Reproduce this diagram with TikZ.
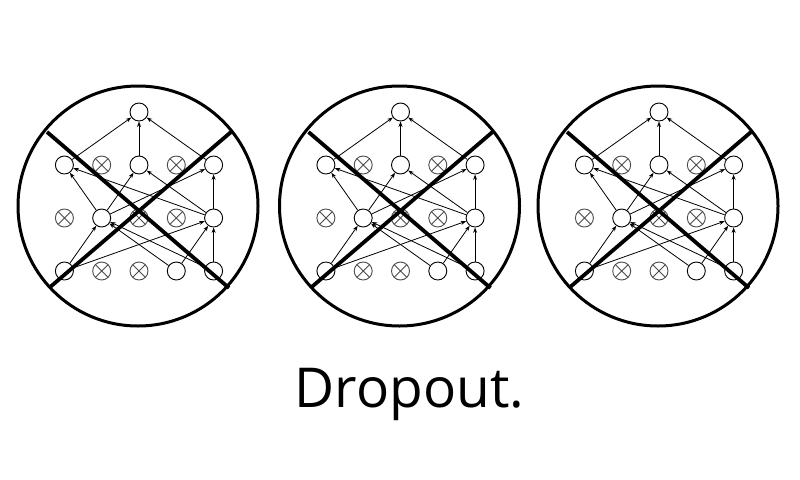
\documentclass[tikz,border=0pt]{standalone}
\usepackage{fontspec}
\setmainfont{Open Sans}
\usetikzlibrary{arrows.meta}

\tikzset{
    unit/.style={circle,draw,line width=0.9pt,minimum size=18pt,inner sep=0pt,fill=white},
    dropped/.style={unit,draw=black!70,path picture={
        \draw[black!70,line width=0.9pt] (path picture bounding box.north west) -- (path picture bounding box.south east)
            (path picture bounding box.north east) -- (path picture bounding box.south west);}},
    link/.style={line width=0.8pt,-{Stealth[length=5.5pt,width=4pt]}},
    ring/.style={line width=3pt},
    strike/.style={line width=3.8pt}
}

\begin{document}
\begin{tikzpicture}[x=1pt,y=-1pt]
    \useasboundingbox (0,0) rectangle (800,479);

    \foreach \p/\cx in {1/138,2/399.5,3/658} {
        % thinned network
        \foreach \r/\c/\kind in {1/2/unit,
                2/0/unit,2/1/dropped,2/2/unit,2/3/dropped,2/4/unit,
                3/0/dropped,3/1/unit,3/2/dropped,3/3/dropped,3/4/unit,
                4/0/unit,4/1/dropped,4/2/dropped,4/3/unit,4/4/unit}
            \node[\kind] (u\p-\r-\c) at ({\cx+1+37.3*(\c-2)},{112+53*(\r-1)}) {};

        % Connections
        \foreach \s/\t in {2-0/1-2,2-2/1-2,2-4/1-2,
                3-1/2-0,3-1/2-2,3-1/2-4,3-4/2-0,3-4/2-2,3-4/2-4,
                4-0/3-1,4-0/3-4,4-3/3-1,4-3/3-4,4-4/3-1,4-4/3-4}
            \draw[link] (u\p-\s) -- (u\p-\t);

        % Crossed out
        \draw[ring] (\cx,206) circle[radius=120];
        \draw[strike] (\cx-91,132) -- (\cx+91,288);
        \draw[strike] (\cx-89,288) -- (\cx+93,132);
    }

    \node[anchor=base,font=\fontsize{55}{60}\selectfont] (caption) at (409.5,407) {Dropout.};
\end{tikzpicture}
\end{document}
